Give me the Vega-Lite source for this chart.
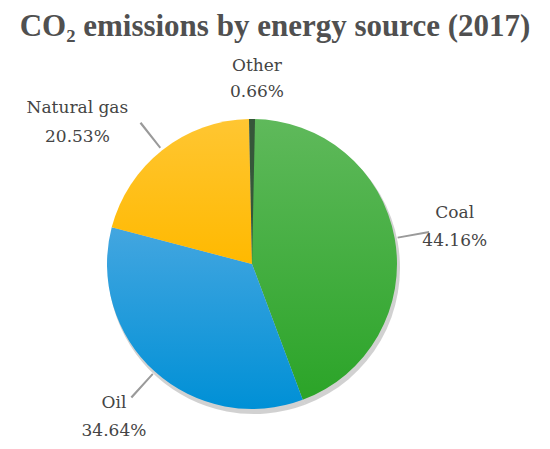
{
  "$schema": "https://vega.github.io/schema/vega-lite/v6.json",
  "autosize": {"type": "none"},
  "width": 504,
  "height": 378,
  "padding": {"left": 0, "top": 75, "right": 46, "bottom": 0},
  "background": "white",
  "title": {
    "text": "CO₂ emissions by energy source (2017)",
    "font": "Liberation Serif",
    "fontSize": 31,
    "fontWeight": "bold",
    "color": "#505050",
    "anchor": "middle",
    "dx": 23,
    "offset": 14
  },
  "data": {
    "values": [
      {"source": "Coal", "share": 44.16},
      {"source": "Oil", "share": 34.64},
      {"source": "Natural gas", "share": 20.53},
      {"source": "Other", "share": 0.66}
    ]
  },
  "transform": [
    {"window": [{"op": "sum", "field": "share", "as": "end"}], "frame": [null, 0]},
    {"calculate": "datum.end - datum.share", "as": "start"},
    {"calculate": "datum.end - datum.share / 2", "as": "mid"},
    {"calculate": "datum.mid - 0.1", "as": "tick_a"},
    {"calculate": "datum.mid + 0.1", "as": "tick_b"},
    {"calculate": "datum.source + '\\n' + format(datum.share, '.2f') + '%'", "as": "label"}
  ],
  "layer": [
    {
      "mark": {"type": "arc", "outerRadius": 146, "fill": "#7a7a7a", "opacity": 0.35, "xOffset": 2, "yOffset": 4},
      "encoding": {
        "theta": {"field": "start", "type": "quantitative", "scale": {"zero": true, "nice": false}},
        "theta2": {"field": "end"}
      }
    },
    {
      "mark": {"type": "arc", "outerRadius": 145},
      "encoding": {
        "theta": {"field": "start", "type": "quantitative"},
        "theta2": {"field": "end"},
        "fill": {
          "condition": [
            {"test": "datum.source === 'Coal'", "value": {"gradient": "linear", "x1": 0, "y1": 0, "x2": 0, "y2": 1, "stops": [{"offset": 0, "color": "#5fb95b"}, {"offset": 1, "color": "#2ba428"}]}},
            {"test": "datum.source === 'Oil'", "value": {"gradient": "linear", "x1": 0, "y1": 0, "x2": 0, "y2": 1, "stops": [{"offset": 0, "color": "#43a6e0"}, {"offset": 1, "color": "#0090d6"}]}},
            {"test": "datum.source === 'Natural gas'", "value": {"gradient": "linear", "x1": 0, "y1": 0, "x2": 0, "y2": 1, "stops": [{"offset": 0, "color": "#ffc632"}, {"offset": 1, "color": "#ffb900"}]}}
          ],
          "value": "#36573a"
        }
      }
    },
    {
      "transform": [{"filter": "datum.source !== 'Other'"}],
      "mark": {"type": "arc", "innerRadius": 148, "fill": "#9a9a9a"},
      "encoding": {
        "theta": {"field": "tick_a", "type": "quantitative"},
        "theta2": {"field": "tick_b"},
        "radius": {
          "condition": [
            {"test": "datum.source === 'Coal'", "value": 155},
            {"test": "datum.source === 'Oil'", "value": 172}
          ],
          "value": 180
        }
      }
    },
    {
      "transform": [{"filter": "datum.source === 'Coal' || datum.source === 'Oil'"}],
      "mark": {"type": "text", "radius": 206, "dy": -9, "font": "DejaVu Serif", "fontSize": 17, "color": "#444444", "lineBreak": "\n", "lineHeight": 28, "baseline": "alphabetic", "align": "center"},
      "encoding": {"theta": {"field": "mid", "type": "quantitative"}, "text": {"field": "label"}}
    },
    {
      "transform": [{"filter": "datum.source === 'Natural gas'"}],
      "mark": {"type": "text", "radius": 206, "dx": -47, "dy": 11, "font": "DejaVu Serif", "fontSize": 17, "color": "#444444", "lineBreak": "\n", "lineHeight": 29, "baseline": "alphabetic", "align": "center"},
      "encoding": {"theta": {"field": "mid", "type": "quantitative"}, "text": {"field": "label"}}
    },
    {
      "transform": [{"filter": "datum.source === 'Other'"}],
      "mark": {"type": "text", "radius": 206, "dx": 5, "dy": 13, "font": "DejaVu Serif", "fontSize": 17, "color": "#444444", "lineBreak": "\n", "lineHeight": 26, "baseline": "alphabetic", "align": "center"},
      "encoding": {"theta": {"field": "mid", "type": "quantitative"}, "text": {"field": "label"}}
    }
  ]
}
